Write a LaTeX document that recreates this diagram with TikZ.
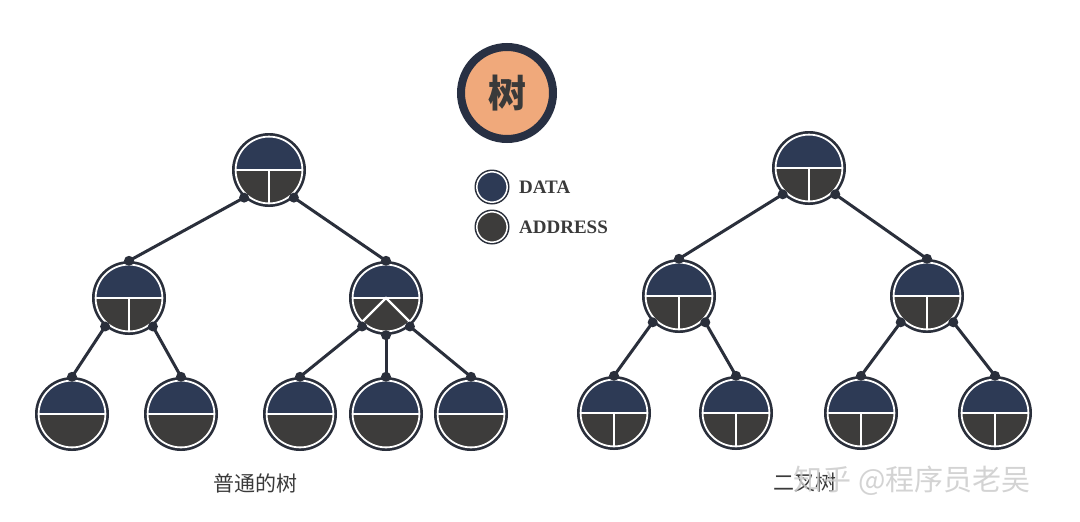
\documentclass[tikz,border=0pt]{standalone}
\usepackage{fontspec}
\setmainfont{Liberation Serif}
\newfontfamily\cjk{Noto Sans CJK SC}
\definecolor{navyc}{HTML}{2D3A55}
\definecolor{grayc}{HTML}{3D3C3B}
\definecolor{ringc}{HTML}{2A2F3B}
\definecolor{orangec}{HTML}{F0A97B}
\definecolor{titlering}{HTML}{283043}
\definecolor{textc}{HTML}{3A3A3A}
\tikzset{
  tn/.style={circle, minimum size=74pt, inner sep=0pt, fill=ringc},
  edgeline/.style={draw=ringc, line width=3pt},
  whiteline/.style={draw=white, line width=2.4pt},
  lgd/.style={circle, minimum size=35pt, inner sep=0pt, fill=ringc},
  lgdtext/.style={anchor=west, font=\fontsize{19}{21}\selectfont\bfseries, text=textc, inner sep=0pt},
  cjklabel/.style={font=\cjk\fontsize{21}{24}\selectfont, text=textc},
}
\newcommand\TreeBase[3]{%
  \node[tn] (#1) at (#2,#3) {};
  \begin{scope}[shift={(#1.center)},x=1pt,y=1pt]
    \fill[navyc] (33,0) arc[start angle=0,end angle=180,radius=33] -- cycle;
    \fill[grayc] (-33,0) arc[start angle=180,end angle=360,radius=33] -- cycle;
    \draw[white,line width=1.8pt] (0,0) circle[radius=33.4];
    \draw[whiteline] (-33.4,0) -- (33.4,0);
  \end{scope}}
\newcommand\TreeLeaf[3]{\TreeBase{#1}{#2}{#3}}
\newcommand\TreeT[3]{%
  \TreeBase{#1}{#2}{#3}
  \begin{scope}[shift={(#1.center)},x=1pt,y=1pt]
    \draw[whiteline] (0,0) -- (0,-33.4);
  \end{scope}}
\newcommand\TreeV[3]{%
  \TreeBase{#1}{#2}{#3}
  \begin{scope}[shift={(#1.center)},x=1pt,y=1pt]
    \draw[whiteline, line join=miter] (-135:33.4) -- (0,0) -- (-45:33.4);
  \end{scope}}
\newcommand\TreeEdge[3]{%
  \draw[edgeline] (#1.#2) -- (#3.90);
  \fill[ringc] (#1.#2) circle[radius=5pt];
  \fill[ringc] (#3.90) circle[radius=5pt];}
\begin{document}
\begin{tikzpicture}[x=1pt,y=-1pt]
\useasboundingbox[fill=white] (0,0) rectangle (1080,522);

% title
\node[circle, minimum size=92pt, inner sep=0pt, fill=orangec, draw=titlering, line width=8pt] (title) at (507,93) {};
\node[font=\cjk\bfseries\fontsize{38}{40}\selectfont, text=textc] (titletext) at (507,93) {树};

% legend
\node[lgd] (ldata) at (492,187) {};
\node[lgd] (laddr) at (492,227) {};
\begin{scope}[shift={(ldata.center)},x=1pt,y=1pt]
  \fill[navyc] (0,0) circle[radius=15];
  \draw[white,line width=1.5pt] (0,0) circle[radius=15.2];
\end{scope}
\begin{scope}[shift={(laddr.center)},x=1pt,y=1pt]
  \fill[grayc] (0,0) circle[radius=15];
  \draw[white,line width=1.5pt] (0,0) circle[radius=15.2];
\end{scope}
\node[lgdtext] (tdata) at (519,187) {DATA};
\node[lgdtext] (taddr) at (519,227) {ADDRESS};

% left tree
\TreeT{A}{269}{170}
\TreeT{B}{129}{298}
\TreeV{C}{386}{298}
\TreeLeaf{D}{72}{414}
\TreeLeaf{E}{181}{414}
\TreeLeaf{F}{300}{414}
\TreeLeaf{G}{386}{414}
\TreeLeaf{H}{471}{414}
\TreeEdge{A}{-132}{B}
\TreeEdge{A}{-48}{C}
\TreeEdge{B}{-130}{D}
\TreeEdge{B}{-50}{E}
\TreeEdge{C}{-130}{F}
\TreeEdge{C}{-90}{G}
\TreeEdge{C}{-50}{H}

% right tree
\TreeT{P}{809}{168}
\TreeT{Q}{679}{296}
\TreeT{R}{927}{296}
\TreeT{Q1}{614}{413}
\TreeT{Q2}{736}{413}
\TreeT{R1}{861}{413}
\TreeT{R2}{995}{413}
\TreeEdge{P}{-135}{Q}
\TreeEdge{P}{-45}{R}
\TreeEdge{Q}{-135}{Q1}
\TreeEdge{Q}{-45}{Q2}
\TreeEdge{R}{-135}{R1}
\TreeEdge{R}{-45}{R2}

% labels
\node[cjklabel] (lab1) at (255,483) {普通的树};
\node[cjklabel] (lab2) at (805,483) {二叉树};
\node[font=\cjk\fontsize{29}{32}\selectfont, text=black!20, opacity=0.85, anchor=west] (wm) at (790,481) {知乎 @程序员老吴};
\end{tikzpicture}
\end{document}
